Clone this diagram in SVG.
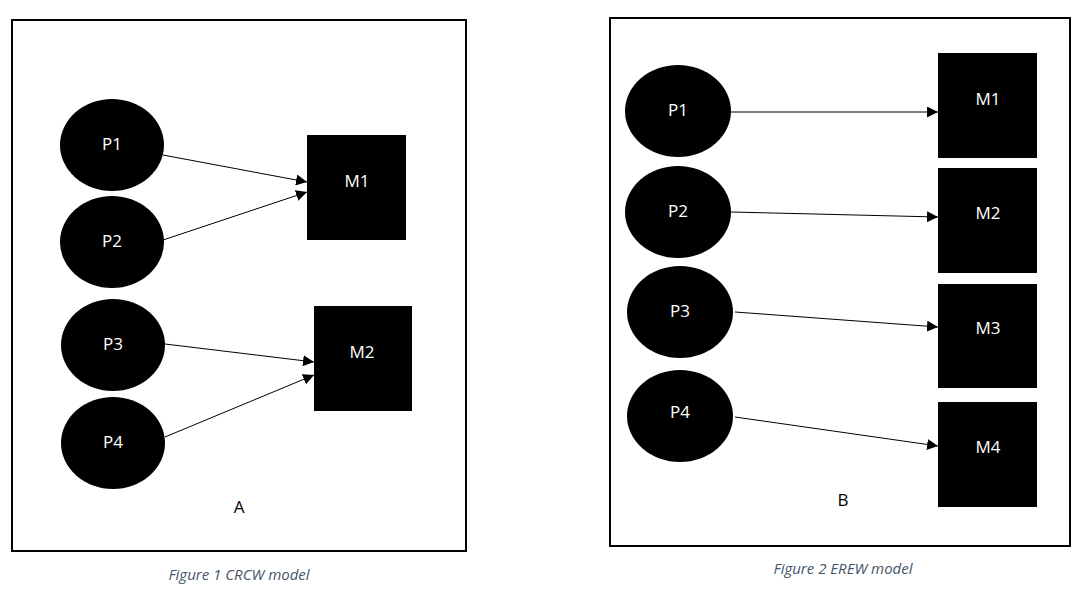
<svg xmlns="http://www.w3.org/2000/svg" width="1080" height="605" viewBox="0 0 1080 605">
<style>
.frame{fill:#fff;stroke:#000;stroke-width:2}
.n{fill:#000}
.t{fill:#fff;font-family:"Open Sans","Liberation Sans",sans-serif;font-size:17px;text-anchor:middle;dominant-baseline:central}
.l{fill:#000;font-family:"Open Sans","Liberation Sans",sans-serif;font-size:17px;text-anchor:middle}
.cap{fill:#44546a;font-family:"Open Sans","Liberation Sans",sans-serif;font-size:15px;font-style:italic;text-anchor:middle}
.c line{stroke:#000;stroke-width:1;marker-end:url(#a)}
</style>
<defs><marker id="a" viewBox="0 0 10 10" refX="10" refY="5" markerWidth="11" markerHeight="11" markerUnits="userSpaceOnUse" orient="auto"><path d="M0,0L10,5L0,10z" fill="#000"/></marker></defs>
<rect width="1080" height="605" fill="#fff"/>
<rect class="frame" x="12" y="20" width="454" height="531"/>
<rect class="frame" x="610" y="18" width="460" height="528"/>
<g id="L-P1"><ellipse class="n" cx="112" cy="145" rx="52" ry="46"/><text class="t" x="112" y="143">P1</text></g>
<g id="L-P2"><ellipse class="n" cx="112" cy="242" rx="52" ry="46"/><text class="t" x="112" y="240">P2</text></g>
<g id="L-P3"><ellipse class="n" cx="113" cy="345" rx="52" ry="46"/><text class="t" x="113" y="343">P3</text></g>
<g id="L-P4"><ellipse class="n" cx="113" cy="443" rx="52" ry="46"/><text class="t" x="113" y="441">P4</text></g>
<g id="L-M1"><rect class="n" x="307" y="135" width="99" height="105"/><text class="t" x="357" y="180">M1</text></g>
<g id="L-M2"><rect class="n" x="314" y="306" width="98" height="105"/><text class="t" x="362" y="351">M2</text></g>
<g id="R-P1"><ellipse class="n" cx="678" cy="111" rx="53" ry="46"/><text class="t" x="678" y="109">P1</text></g>
<g id="R-P2"><ellipse class="n" cx="678" cy="212" rx="53" ry="46"/><text class="t" x="678" y="210">P2</text></g>
<g id="R-P3"><ellipse class="n" cx="680" cy="312" rx="53" ry="46"/><text class="t" x="680" y="310">P3</text></g>
<g id="R-P4"><ellipse class="n" cx="680" cy="416" rx="53" ry="46"/><text class="t" x="680" y="411">P4</text></g>
<g id="R-M1"><rect class="n" x="938" y="53" width="99" height="105"/><text class="t" x="988" y="98">M1</text></g>
<g id="R-M2"><rect class="n" x="938" y="168" width="99" height="105"/><text class="t" x="988" y="212">M2</text></g>
<g id="R-M3"><rect class="n" x="938" y="284" width="99" height="104"/><text class="t" x="988" y="327">M3</text></g>
<g id="R-M4"><rect class="n" x="938" y="402" width="99" height="105"/><text class="t" x="988" y="446">M4</text></g>
<g class="c">
<line x1="163" y1="155" x2="307" y2="182"/>
<line x1="163" y1="240" x2="307" y2="192"/>
<line x1="165" y1="344" x2="314" y2="362"/>
<line x1="165" y1="437" x2="314" y2="375"/>
<line x1="731" y1="112" x2="938" y2="112"/>
<line x1="731" y1="212" x2="938" y2="217"/>
<line x1="735" y1="312" x2="938" y2="327"/>
<line x1="735" y1="417" x2="938" y2="446"/>
</g>
<text class="l" x="239" y="513">A</text>
<text class="l" x="843" y="506">B</text>
<text class="cap" x="239" y="580">Figure 1 CRCW model</text>
<text class="cap" x="843" y="574">Figure 2 EREW model</text>
</svg>
